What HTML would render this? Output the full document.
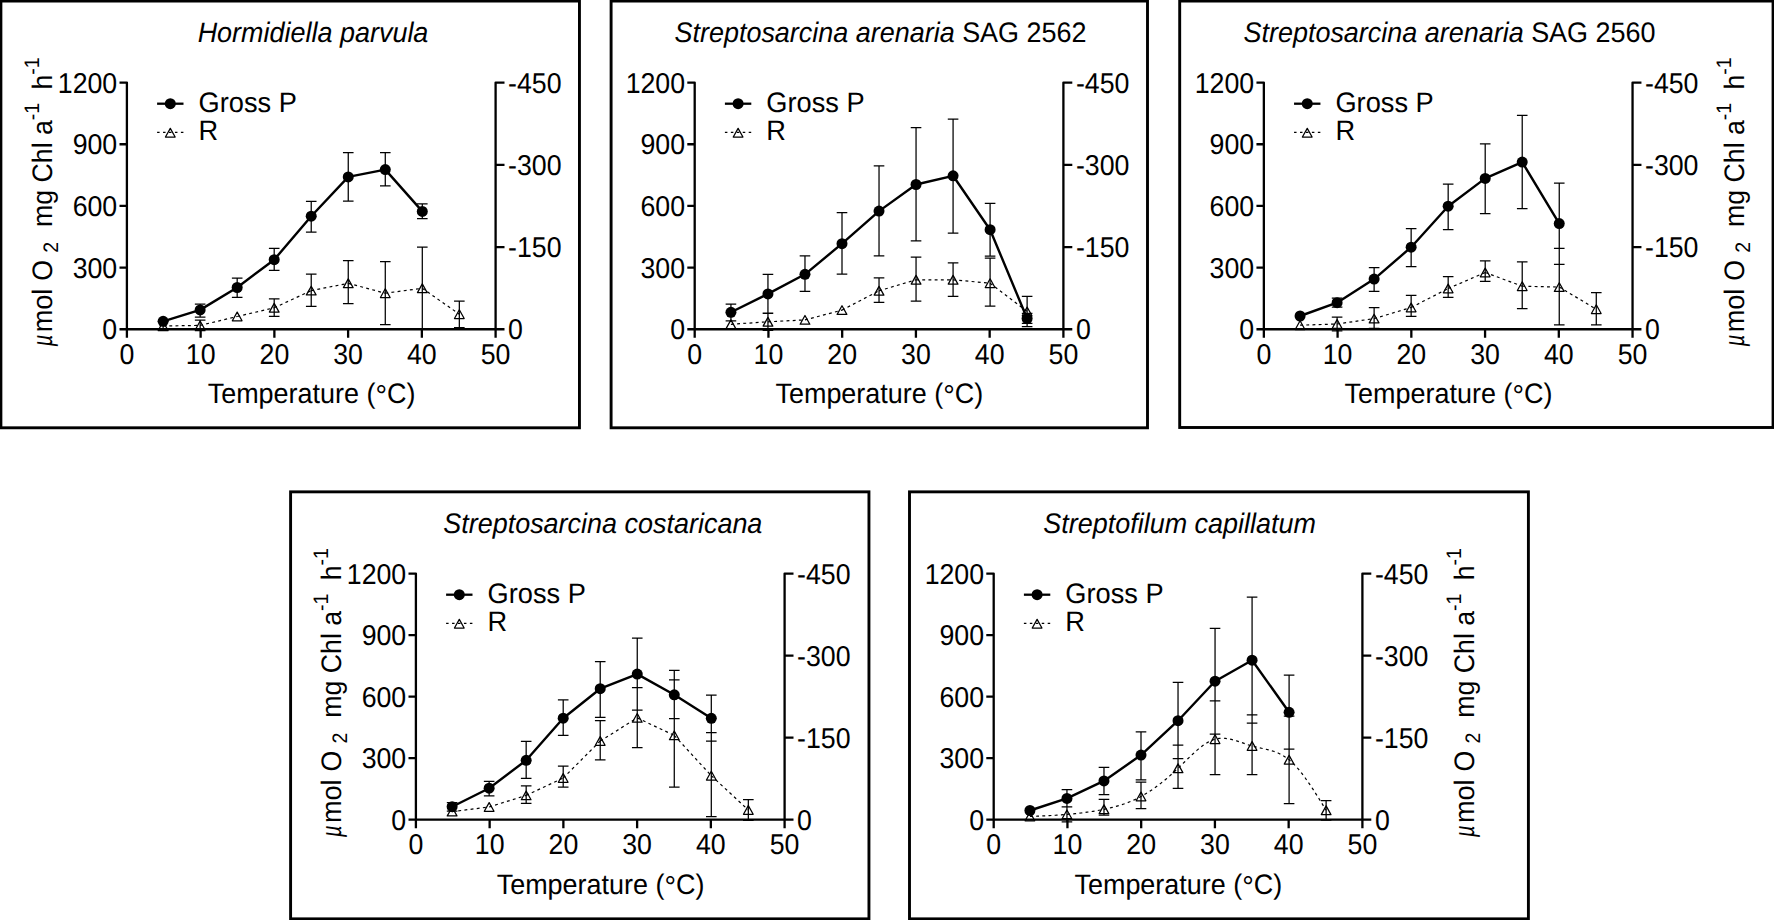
<!DOCTYPE html>
<html lang="en"><head><meta charset="utf-8"><title>Temperature response of gross photosynthesis and respiration</title>
<style>
html,body{margin:0;padding:0;background:#fff;}
body{width:1774px;height:920px;overflow:hidden;}
svg{display:block;font-family:"Liberation Sans", Arial, sans-serif;fill:#000;}
</style></head><body>
<svg width="1774" height="920" viewBox="0 0 1774 920" text-rendering="geometricPrecision">
<rect width="1774" height="920" fill="#fff"/>
<g>
<rect x="0.9" y="1.05" width="578.55" height="426.75" fill="#fff" stroke="#000" stroke-width="2.9"/>
<text transform="translate(313 41.5) scale(1.01 1.055)" font-size="26.7" text-anchor="middle" xml:space="preserve"><tspan font-style="italic">Hormidiella parvula</tspan></text>
<text transform="translate(117.2 339.45) scale(1 1.075)" font-size="26.7" text-anchor="end">0</text>
<text transform="translate(117.2 277.79) scale(1 1.075)" font-size="26.7" text-anchor="end">300</text>
<text transform="translate(117.2 216.12) scale(1 1.075)" font-size="26.7" text-anchor="end">600</text>
<text transform="translate(117.2 154.46) scale(1 1.075)" font-size="26.7" text-anchor="end">900</text>
<text transform="translate(117.2 92.8) scale(1 1.075)" font-size="26.7" text-anchor="end">1200</text>
<text transform="translate(508.1 339.45) scale(1 1.075)" font-size="26.7">0</text>
<text transform="translate(508.1 257.23) scale(1 1.075)" font-size="26.7">-150</text>
<text transform="translate(508.1 175.02) scale(1 1.075)" font-size="26.7">-300</text>
<text transform="translate(508.1 92.8) scale(1 1.075)" font-size="26.7">-450</text>
<text transform="translate(126.9 363.85) scale(1 1.075)" font-size="26.7" text-anchor="middle">0</text>
<text transform="translate(200.64 363.85) scale(1 1.075)" font-size="26.7" text-anchor="middle">10</text>
<text transform="translate(274.38 363.85) scale(1 1.075)" font-size="26.7" text-anchor="middle">20</text>
<text transform="translate(348.12 363.85) scale(1 1.075)" font-size="26.7" text-anchor="middle">30</text>
<text transform="translate(421.86 363.85) scale(1 1.075)" font-size="26.7" text-anchor="middle">40</text>
<text transform="translate(495.6 363.85) scale(1 1.075)" font-size="26.7" text-anchor="middle">50</text>
<text transform="translate(311.55 403.05) scale(1.01 1.055)" font-size="26.7" text-anchor="middle">Temperature (<tspan font-size="28.6" dy="3">°</tspan><tspan dy="-3">C)</tspan></text>
<text transform="translate(51.6 346.2) rotate(-90) scale(0.75 1.055)" font-size="26.7" font-style="italic">µ</text><text transform="translate(51.6 332.3) rotate(-90) scale(1.015 1.055)" font-size="26.7">mol</text><text transform="translate(51.6 280.85) rotate(-90) scale(1 1.055)" font-size="26.7">O</text><text transform="translate(57.9 252.65) rotate(-90) scale(1 1.075)" font-size="19.5">2</text><text transform="translate(51.6 226.95) rotate(-90) scale(1 1.055)" font-size="26.7">mg Chl a</text><text transform="translate(38.9 120.15) rotate(-90) scale(1 1.075)" font-size="19.5">-1</text><text transform="translate(51.6 89.45) rotate(-90) scale(1 1.055)" font-size="26.7">h</text><text transform="translate(38.9 74.8) rotate(-90) scale(1 1.075)" font-size="19.5">-1</text>
<path d="M157.1 103.7H183.5" stroke="#000" stroke-width="2.3" fill="none"/>
<circle cx="170.3" cy="103.7" r="5.5"/>
<path d="M157.1 132.4h26.4" stroke="#000" stroke-width="1.2" stroke-dasharray="2.5 3.45" fill="none"/>
<path d="M170.3 128.35L175.15 137.05H165.45Z" fill="none" stroke="#000" stroke-width="1.25" stroke-linejoin="round"/>
<text transform="translate(198.5 112.1) scale(1.02 1.055)" font-size="26.7">Gross P</text>
<text transform="translate(198.5 140.4) scale(1.02 1.055)" font-size="26.7">R</text>
<path d="M163.12 321.4V330.6M157.82 321.4h10.6M157.82 330.6h10.6M200.15 320.2V330.6M194.85 320.2h10.6M194.85 330.6h10.6M274.2 298.9V316.4M268.9 298.9h10.6M268.9 316.4h10.6M311.23 274V306.3M305.93 274h10.6M305.93 306.3h10.6M348.25 260.6V303.6M342.95 260.6h10.6M342.95 303.6h10.6M385.28 261.6V324.7M379.98 261.6h10.6M379.98 324.7h10.6M422.3 247.1V329.3M417 247.1h10.6M417 329.3h10.6M459.33 301.1V327.6M454.03 301.1h10.6M454.03 327.6h10.6M200.15 304V317.2M194.85 304h10.6M194.85 317.2h10.6M237.18 278.1V297.4M231.88 278.1h10.6M231.88 297.4h10.6M274.2 248.4V270.3M268.9 248.4h10.6M268.9 270.3h10.6M311.23 201.3V232.2M305.93 201.3h10.6M305.93 232.2h10.6M348.25 152.5V201.1M342.95 152.5h10.6M342.95 201.1h10.6M385.28 152.5V185.9M379.98 152.5h10.6M379.98 185.9h10.6M422.3 203.8V218.6M417 203.8h10.6M417 218.6h10.6" stroke="#000" stroke-width="1.25" fill="none"/>
<g fill="none" stroke="#000" stroke-width="1.2" stroke-dasharray="2.9 3.3"><path d="M163.12 326L200.15 325.4"/><path d="M200.15 325.4L237.18 316.5"/><path d="M237.18 316.5L274.2 307.8"/><path d="M274.2 307.8L311.23 290.6"/><path d="M311.23 290.6L348.25 283.3"/><path d="M348.25 283.3L385.28 293.2"/><path d="M385.28 293.2L422.3 288.3"/><path d="M422.3 288.3L459.33 314.2"/></g>
<path d="M163.12 321.6L167.97 330.3H158.28Z" fill="none" stroke="#000" stroke-width="1.25" stroke-linejoin="round"/>
<path d="M200.15 321L205 329.7H195.3Z" fill="none" stroke="#000" stroke-width="1.25" stroke-linejoin="round"/>
<path d="M237.18 312.1L242.03 320.8H232.33Z" fill="none" stroke="#000" stroke-width="1.25" stroke-linejoin="round"/>
<path d="M274.2 303.4L279.05 312.1H269.35Z" fill="none" stroke="#000" stroke-width="1.25" stroke-linejoin="round"/>
<path d="M311.23 286.2L316.08 294.9H306.38Z" fill="none" stroke="#000" stroke-width="1.25" stroke-linejoin="round"/>
<path d="M348.25 278.9L353.1 287.6H343.4Z" fill="none" stroke="#000" stroke-width="1.25" stroke-linejoin="round"/>
<path d="M385.28 288.8L390.13 297.5H380.43Z" fill="none" stroke="#000" stroke-width="1.25" stroke-linejoin="round"/>
<path d="M422.3 283.9L427.15 292.6H417.45Z" fill="none" stroke="#000" stroke-width="1.25" stroke-linejoin="round"/>
<path d="M459.33 309.8L464.18 318.5H454.48Z" fill="none" stroke="#000" stroke-width="1.25" stroke-linejoin="round"/>
<polyline points="163.12,321.3 200.15,309.9 237.18,287.5 274.2,259.7 311.23,216.2 348.25,176.9 385.28,169.6 422.3,211.4" fill="none" stroke="#000" stroke-width="2.4" stroke-linejoin="round"/>
<circle cx="163.12" cy="321.3" r="5.5"/>
<circle cx="200.15" cy="309.9" r="5.5"/>
<circle cx="237.18" cy="287.5" r="5.5"/>
<circle cx="274.2" cy="259.7" r="5.5"/>
<circle cx="311.23" cy="216.2" r="5.5"/>
<circle cx="348.25" cy="176.9" r="5.5"/>
<circle cx="385.28" cy="169.6" r="5.5"/>
<circle cx="422.3" cy="211.4" r="5.5"/>
<path d="M119.5 82.6H126.9V329.25M119.5 329.25H504.5M504.5 82.6H495.6V337.85M119.5 267.59H126.9M119.5 205.93H126.9M119.5 144.26H126.9M495.6 247.03H504.5M495.6 164.82H504.5M126.9 329.25V337.85M200.64 329.25V337.85M274.38 329.25V337.85M348.12 329.25V337.85M421.86 329.25V337.85" stroke="#000" stroke-width="2.3" fill="none" stroke-linejoin="round" stroke-linecap="butt"/>
</g>
<g>
<rect x="611.1" y="1.05" width="536.4" height="426.75" fill="#fff" stroke="#000" stroke-width="2.9"/>
<text transform="translate(880.5 41.5) scale(1.01 1.055)" font-size="26.7" text-anchor="middle" xml:space="preserve"><tspan font-style="italic">Streptosarcina arenaria</tspan> SAG 2562</text>
<text transform="translate(685 339.45) scale(1 1.075)" font-size="26.7" text-anchor="end">0</text>
<text transform="translate(685 277.79) scale(1 1.075)" font-size="26.7" text-anchor="end">300</text>
<text transform="translate(685 216.12) scale(1 1.075)" font-size="26.7" text-anchor="end">600</text>
<text transform="translate(685 154.46) scale(1 1.075)" font-size="26.7" text-anchor="end">900</text>
<text transform="translate(685 92.8) scale(1 1.075)" font-size="26.7" text-anchor="end">1200</text>
<text transform="translate(1075.9 339.45) scale(1 1.075)" font-size="26.7">0</text>
<text transform="translate(1075.9 257.23) scale(1 1.075)" font-size="26.7">-150</text>
<text transform="translate(1075.9 175.02) scale(1 1.075)" font-size="26.7">-300</text>
<text transform="translate(1075.9 92.8) scale(1 1.075)" font-size="26.7">-450</text>
<text transform="translate(694.7 363.85) scale(1 1.075)" font-size="26.7" text-anchor="middle">0</text>
<text transform="translate(768.44 363.85) scale(1 1.075)" font-size="26.7" text-anchor="middle">10</text>
<text transform="translate(842.18 363.85) scale(1 1.075)" font-size="26.7" text-anchor="middle">20</text>
<text transform="translate(915.92 363.85) scale(1 1.075)" font-size="26.7" text-anchor="middle">30</text>
<text transform="translate(989.66 363.85) scale(1 1.075)" font-size="26.7" text-anchor="middle">40</text>
<text transform="translate(1063.4 363.85) scale(1 1.075)" font-size="26.7" text-anchor="middle">50</text>
<text transform="translate(879.35 403.05) scale(1.01 1.055)" font-size="26.7" text-anchor="middle">Temperature (<tspan font-size="28.6" dy="3">°</tspan><tspan dy="-3">C)</tspan></text>
<path d="M724.9 103.7H751.3" stroke="#000" stroke-width="2.3" fill="none"/>
<circle cx="738.1" cy="103.7" r="5.5"/>
<path d="M724.9 132.4h26.4" stroke="#000" stroke-width="1.2" stroke-dasharray="2.5 3.45" fill="none"/>
<path d="M738.1 128.35L742.95 137.05H733.25Z" fill="none" stroke="#000" stroke-width="1.25" stroke-linejoin="round"/>
<text transform="translate(766.3 112.1) scale(1.02 1.055)" font-size="26.7">Gross P</text>
<text transform="translate(766.3 140.4) scale(1.02 1.055)" font-size="26.7">R</text>
<path d="M767.95 313.3V330.3M762.65 313.3h10.6M762.65 330.3h10.6M879.03 277.9V302.4M873.73 277.9h10.6M873.73 302.4h10.6M916.05 257.1V301.2M910.75 257.1h10.6M910.75 301.2h10.6M953.08 262.9V296.3M947.78 262.9h10.6M947.78 296.3h10.6M990.1 258.1V306.1M984.8 258.1h10.6M984.8 306.1h10.6M1027.12 296.3V326.5M1021.83 296.3h10.6M1021.83 326.5h10.6M730.93 304V320.8M725.63 304h10.6M725.63 320.8h10.6M767.95 274.3V313.1M762.65 274.3h10.6M762.65 313.1h10.6M804.98 255.9V291.3M799.68 255.9h10.6M799.68 291.3h10.6M842 212.5V274.1M836.7 212.5h10.6M836.7 274.1h10.6M879.03 165.9V255.9M873.73 165.9h10.6M873.73 255.9h10.6M916.05 127.5V240.8M910.75 127.5h10.6M910.75 240.8h10.6M953.08 119.2V233.2M947.78 119.2h10.6M947.78 233.2h10.6M990.1 203.3V256.2M984.8 203.3h10.6M984.8 256.2h10.6M1027.12 313.4V323.4M1021.83 313.4h10.6M1021.83 323.4h10.6" stroke="#000" stroke-width="1.25" fill="none"/>
<g fill="none" stroke="#000" stroke-width="1.2" stroke-dasharray="2.9 3.3"><path d="M730.93 324.3L767.95 321.8"/><path d="M767.95 321.8L804.98 319.9"/><path d="M804.98 319.9L842 310.1"/><path d="M842 310.1L879.03 290.8"/><path d="M879.03 290.8L916.05 279.8"/><path d="M916.05 279.8L953.08 279.8"/><path d="M953.08 279.8L990.1 283.2"/><path d="M990.1 283.2L1027.12 311.5"/></g>
<path d="M730.93 319.9L735.78 328.6H726.08Z" fill="none" stroke="#000" stroke-width="1.25" stroke-linejoin="round"/>
<path d="M767.95 317.4L772.8 326.1H763.1Z" fill="none" stroke="#000" stroke-width="1.25" stroke-linejoin="round"/>
<path d="M804.98 315.5L809.83 324.2H800.13Z" fill="none" stroke="#000" stroke-width="1.25" stroke-linejoin="round"/>
<path d="M842 305.7L846.85 314.4H837.15Z" fill="none" stroke="#000" stroke-width="1.25" stroke-linejoin="round"/>
<path d="M879.03 286.4L883.88 295.1H874.18Z" fill="none" stroke="#000" stroke-width="1.25" stroke-linejoin="round"/>
<path d="M916.05 275.4L920.9 284.1H911.2Z" fill="none" stroke="#000" stroke-width="1.25" stroke-linejoin="round"/>
<path d="M953.08 275.4L957.93 284.1H948.23Z" fill="none" stroke="#000" stroke-width="1.25" stroke-linejoin="round"/>
<path d="M990.1 278.8L994.95 287.5H985.25Z" fill="none" stroke="#000" stroke-width="1.25" stroke-linejoin="round"/>
<path d="M1027.12 307.1L1031.97 315.8H1022.27Z" fill="none" stroke="#000" stroke-width="1.25" stroke-linejoin="round"/>
<polyline points="730.93,312.3 767.95,293.9 804.98,274.3 842,243.7 879.03,211.1 916.05,184.5 953.08,175.8 990.1,229.7 1027.12,318.5" fill="none" stroke="#000" stroke-width="2.4" stroke-linejoin="round"/>
<circle cx="730.93" cy="312.3" r="5.5"/>
<circle cx="767.95" cy="293.9" r="5.5"/>
<circle cx="804.98" cy="274.3" r="5.5"/>
<circle cx="842" cy="243.7" r="5.5"/>
<circle cx="879.03" cy="211.1" r="5.5"/>
<circle cx="916.05" cy="184.5" r="5.5"/>
<circle cx="953.08" cy="175.8" r="5.5"/>
<circle cx="990.1" cy="229.7" r="5.5"/>
<circle cx="1027.12" cy="318.5" r="5.5"/>
<path d="M687.3 82.6H694.7V329.25M687.3 329.25H1072.3M1072.3 82.6H1063.4V337.85M687.3 267.59H694.7M687.3 205.93H694.7M687.3 144.26H694.7M1063.4 247.03H1072.3M1063.4 164.82H1072.3M694.7 329.25V337.85M768.44 329.25V337.85M842.18 329.25V337.85M915.92 329.25V337.85M989.66 329.25V337.85" stroke="#000" stroke-width="2.3" fill="none" stroke-linejoin="round" stroke-linecap="butt"/>
</g>
<g>
<rect x="1179.7" y="1.05" width="593.35" height="426.45" fill="#fff" stroke="#000" stroke-width="2.9"/>
<text transform="translate(1449.5 41.5) scale(1.01 1.055)" font-size="26.7" text-anchor="middle" xml:space="preserve"><tspan font-style="italic">Streptosarcina arenaria</tspan> SAG 2560</text>
<text transform="translate(1254.15 339.45) scale(1 1.075)" font-size="26.7" text-anchor="end">0</text>
<text transform="translate(1254.15 277.79) scale(1 1.075)" font-size="26.7" text-anchor="end">300</text>
<text transform="translate(1254.15 216.12) scale(1 1.075)" font-size="26.7" text-anchor="end">600</text>
<text transform="translate(1254.15 154.46) scale(1 1.075)" font-size="26.7" text-anchor="end">900</text>
<text transform="translate(1254.15 92.8) scale(1 1.075)" font-size="26.7" text-anchor="end">1200</text>
<text transform="translate(1645.05 339.45) scale(1 1.075)" font-size="26.7">0</text>
<text transform="translate(1645.05 257.23) scale(1 1.075)" font-size="26.7">-150</text>
<text transform="translate(1645.05 175.02) scale(1 1.075)" font-size="26.7">-300</text>
<text transform="translate(1645.05 92.8) scale(1 1.075)" font-size="26.7">-450</text>
<text transform="translate(1263.85 363.85) scale(1 1.075)" font-size="26.7" text-anchor="middle">0</text>
<text transform="translate(1337.59 363.85) scale(1 1.075)" font-size="26.7" text-anchor="middle">10</text>
<text transform="translate(1411.33 363.85) scale(1 1.075)" font-size="26.7" text-anchor="middle">20</text>
<text transform="translate(1485.07 363.85) scale(1 1.075)" font-size="26.7" text-anchor="middle">30</text>
<text transform="translate(1558.81 363.85) scale(1 1.075)" font-size="26.7" text-anchor="middle">40</text>
<text transform="translate(1632.55 363.85) scale(1 1.075)" font-size="26.7" text-anchor="middle">50</text>
<text transform="translate(1448.5 403.05) scale(1.01 1.055)" font-size="26.7" text-anchor="middle">Temperature (<tspan font-size="28.6" dy="3">°</tspan><tspan dy="-3">C)</tspan></text>
<text transform="translate(1743.85 346.2) rotate(-90) scale(0.75 1.055)" font-size="26.7" font-style="italic">µ</text><text transform="translate(1743.85 332.3) rotate(-90) scale(1.015 1.055)" font-size="26.7">mol</text><text transform="translate(1743.85 280.85) rotate(-90) scale(1 1.055)" font-size="26.7">O</text><text transform="translate(1750.15 252.65) rotate(-90) scale(1 1.075)" font-size="19.5">2</text><text transform="translate(1743.85 226.95) rotate(-90) scale(1 1.055)" font-size="26.7">mg Chl a</text><text transform="translate(1731.15 120.15) rotate(-90) scale(1 1.075)" font-size="19.5">-1</text><text transform="translate(1743.85 89.45) rotate(-90) scale(1 1.055)" font-size="26.7">h</text><text transform="translate(1731.15 74.8) rotate(-90) scale(1 1.075)" font-size="19.5">-1</text>
<path d="M1294.05 103.7H1320.45" stroke="#000" stroke-width="2.3" fill="none"/>
<circle cx="1307.25" cy="103.7" r="5.5"/>
<path d="M1294.05 132.4h26.4" stroke="#000" stroke-width="1.2" stroke-dasharray="2.5 3.45" fill="none"/>
<path d="M1307.25 128.35L1312.1 137.05H1302.4Z" fill="none" stroke="#000" stroke-width="1.25" stroke-linejoin="round"/>
<text transform="translate(1335.45 112.1) scale(1.02 1.055)" font-size="26.7">Gross P</text>
<text transform="translate(1335.45 140.4) scale(1.02 1.055)" font-size="26.7">R</text>
<path d="M1337.1 317.2V330.8M1331.8 317.2h10.6M1331.8 330.8h10.6M1374.12 307.6V328.3M1368.83 307.6h10.6M1368.83 328.3h10.6M1411.15 295.4V316.4M1405.85 295.4h10.6M1405.85 316.4h10.6M1448.17 276.7V297.4M1442.88 276.7h10.6M1442.88 297.4h10.6M1485.2 260.9V281.4M1479.9 260.9h10.6M1479.9 281.4h10.6M1522.22 261.9V308.5M1516.92 261.9h10.6M1516.92 308.5h10.6M1559.25 248.4V324.8M1553.95 248.4h10.6M1553.95 324.8h10.6M1596.28 292.5V324.8M1590.98 292.5h10.6M1590.98 324.8h10.6M1337.1 298.2V307M1331.8 298.2h10.6M1331.8 307h10.6M1374.12 267.7V291.3M1368.83 267.7h10.6M1368.83 291.3h10.6M1411.15 228.5V266.5M1405.85 228.5h10.6M1405.85 266.5h10.6M1448.17 184.2V229.7M1442.88 184.2h10.6M1442.88 229.7h10.6M1485.2 143.8V213.7M1479.9 143.8h10.6M1479.9 213.7h10.6M1522.22 115.4V208.6M1516.92 115.4h10.6M1516.92 208.6h10.6M1559.25 183.1V264.3M1553.95 183.1h10.6M1553.95 264.3h10.6" stroke="#000" stroke-width="1.25" fill="none"/>
<g fill="none" stroke="#000" stroke-width="1.2" stroke-dasharray="2.9 3.3"><path d="M1300.08 325.2L1337.1 324"/><path d="M1337.1 324L1374.12 318.6"/><path d="M1374.12 318.6L1411.15 307.5"/><path d="M1411.15 307.5L1448.17 288.5"/><path d="M1448.17 288.5L1485.2 272.5"/><path d="M1485.2 272.5L1522.22 286.2"/><path d="M1522.22 286.2L1559.25 287.1"/><path d="M1559.25 287.1L1596.28 309.2"/></g>
<path d="M1300.08 320.8L1304.92 329.5H1295.23Z" fill="none" stroke="#000" stroke-width="1.25" stroke-linejoin="round"/>
<path d="M1337.1 319.6L1341.95 328.3H1332.25Z" fill="none" stroke="#000" stroke-width="1.25" stroke-linejoin="round"/>
<path d="M1374.12 314.2L1378.97 322.9H1369.28Z" fill="none" stroke="#000" stroke-width="1.25" stroke-linejoin="round"/>
<path d="M1411.15 303.1L1416 311.8H1406.3Z" fill="none" stroke="#000" stroke-width="1.25" stroke-linejoin="round"/>
<path d="M1448.17 284.1L1453.02 292.8H1443.33Z" fill="none" stroke="#000" stroke-width="1.25" stroke-linejoin="round"/>
<path d="M1485.2 268.1L1490.05 276.8H1480.35Z" fill="none" stroke="#000" stroke-width="1.25" stroke-linejoin="round"/>
<path d="M1522.22 281.8L1527.07 290.5H1517.38Z" fill="none" stroke="#000" stroke-width="1.25" stroke-linejoin="round"/>
<path d="M1559.25 282.7L1564.1 291.4H1554.4Z" fill="none" stroke="#000" stroke-width="1.25" stroke-linejoin="round"/>
<path d="M1596.28 304.8L1601.12 313.5H1591.43Z" fill="none" stroke="#000" stroke-width="1.25" stroke-linejoin="round"/>
<polyline points="1300.08,316 1337.1,302.7 1374.12,279.1 1411.15,247.2 1448.17,206.2 1485.2,178.4 1522.22,162.1 1559.25,223.6" fill="none" stroke="#000" stroke-width="2.4" stroke-linejoin="round"/>
<circle cx="1300.08" cy="316" r="5.5"/>
<circle cx="1337.1" cy="302.7" r="5.5"/>
<circle cx="1374.12" cy="279.1" r="5.5"/>
<circle cx="1411.15" cy="247.2" r="5.5"/>
<circle cx="1448.17" cy="206.2" r="5.5"/>
<circle cx="1485.2" cy="178.4" r="5.5"/>
<circle cx="1522.22" cy="162.1" r="5.5"/>
<circle cx="1559.25" cy="223.6" r="5.5"/>
<path d="M1256.45 82.6H1263.85V329.25M1256.45 329.25H1641.45M1641.45 82.6H1632.55V337.85M1256.45 267.59H1263.85M1256.45 205.93H1263.85M1256.45 144.26H1263.85M1632.55 247.03H1641.45M1632.55 164.82H1641.45M1263.85 329.25V337.85M1337.59 329.25V337.85M1411.33 329.25V337.85M1485.07 329.25V337.85M1558.81 329.25V337.85" stroke="#000" stroke-width="2.3" fill="none" stroke-linejoin="round" stroke-linecap="butt"/>
</g>
<g>
<rect x="290.6" y="491.85" width="578.35" height="427" fill="#fff" stroke="#000" stroke-width="2.9"/>
<text transform="translate(602.8 532.5) scale(1.01 1.055)" font-size="26.7" text-anchor="middle" xml:space="preserve"><tspan font-style="italic">Streptosarcina costaricana</tspan></text>
<text transform="translate(406.2 829.9) scale(1 1.075)" font-size="26.7" text-anchor="end">0</text>
<text transform="translate(406.2 768.38) scale(1 1.075)" font-size="26.7" text-anchor="end">300</text>
<text transform="translate(406.2 706.85) scale(1 1.075)" font-size="26.7" text-anchor="end">600</text>
<text transform="translate(406.2 645.33) scale(1 1.075)" font-size="26.7" text-anchor="end">900</text>
<text transform="translate(406.2 583.8) scale(1 1.075)" font-size="26.7" text-anchor="end">1200</text>
<text transform="translate(797.1 829.9) scale(1 1.075)" font-size="26.7">0</text>
<text transform="translate(797.1 747.87) scale(1 1.075)" font-size="26.7">-150</text>
<text transform="translate(797.1 665.83) scale(1 1.075)" font-size="26.7">-300</text>
<text transform="translate(797.1 583.8) scale(1 1.075)" font-size="26.7">-450</text>
<text transform="translate(415.9 854.3) scale(1 1.075)" font-size="26.7" text-anchor="middle">0</text>
<text transform="translate(489.64 854.3) scale(1 1.075)" font-size="26.7" text-anchor="middle">10</text>
<text transform="translate(563.38 854.3) scale(1 1.075)" font-size="26.7" text-anchor="middle">20</text>
<text transform="translate(637.12 854.3) scale(1 1.075)" font-size="26.7" text-anchor="middle">30</text>
<text transform="translate(710.86 854.3) scale(1 1.075)" font-size="26.7" text-anchor="middle">40</text>
<text transform="translate(784.6 854.3) scale(1 1.075)" font-size="26.7" text-anchor="middle">50</text>
<text transform="translate(600.55 893.5) scale(1.01 1.055)" font-size="26.7" text-anchor="middle">Temperature (<tspan font-size="28.6" dy="3">°</tspan><tspan dy="-3">C)</tspan></text>
<text transform="translate(340.6 836.93) rotate(-90) scale(0.75 1.055)" font-size="26.7" font-style="italic">µ</text><text transform="translate(340.6 823.02) rotate(-90) scale(1.015 1.055)" font-size="26.7">mol</text><text transform="translate(340.6 771.58) rotate(-90) scale(1 1.055)" font-size="26.7">O</text><text transform="translate(346.9 743.38) rotate(-90) scale(1 1.075)" font-size="19.5">2</text><text transform="translate(340.6 717.68) rotate(-90) scale(1 1.055)" font-size="26.7">mg Chl a</text><text transform="translate(327.9 610.88) rotate(-90) scale(1 1.075)" font-size="19.5">-1</text><text transform="translate(340.6 580.18) rotate(-90) scale(1 1.055)" font-size="26.7">h</text><text transform="translate(327.9 565.52) rotate(-90) scale(1 1.075)" font-size="19.5">-1</text>
<path d="M446.1 594.7H472.5" stroke="#000" stroke-width="2.3" fill="none"/>
<circle cx="459.3" cy="594.7" r="5.5"/>
<path d="M446.1 623.4h26.4" stroke="#000" stroke-width="1.2" stroke-dasharray="2.5 3.45" fill="none"/>
<path d="M459.3 619.35L464.15 628.05H454.45Z" fill="none" stroke="#000" stroke-width="1.25" stroke-linejoin="round"/>
<text transform="translate(487.5 603.1) scale(1.02 1.055)" font-size="26.7">Gross P</text>
<text transform="translate(487.5 631.4) scale(1.02 1.055)" font-size="26.7">R</text>
<path d="M526.17 785.9V803.4M520.88 785.9h10.6M520.88 803.4h10.6M563.2 766.1V787.1M557.9 766.1h10.6M557.9 787.1h10.6M600.22 720.7V759.9M594.92 720.7h10.6M594.92 759.9h10.6M637.25 687.5V747.6M631.95 687.5h10.6M631.95 747.6h10.6M674.27 679.9V787.2M668.98 679.9h10.6M668.98 787.2h10.6M711.3 732.7V816.7M706 732.7h10.6M706 816.7h10.6M748.33 799.6V820.4M743.03 799.6h10.6M743.03 820.4h10.6M452.12 802.6V811M446.82 802.6h10.6M446.82 811h10.6M489.15 781.3V795.8M483.85 781.3h10.6M483.85 795.8h10.6M526.17 741.3V778.3M520.88 741.3h10.6M520.88 778.3h10.6M563.2 699.9V735.4M557.9 699.9h10.6M557.9 735.4h10.6M600.22 661.6V717.3M594.92 661.6h10.6M594.92 717.3h10.6M637.25 638.1V710M631.95 638.1h10.6M631.95 710h10.6M674.27 670.3V718.5M668.98 670.3h10.6M668.98 718.5h10.6M711.3 695.1V741.2M706 695.1h10.6M706 741.2h10.6" stroke="#000" stroke-width="1.25" fill="none"/>
<g fill="none" stroke="#000" stroke-width="1.2" stroke-dasharray="2.9 3.3"><path d="M452.12 811.6L489.15 807"/><path d="M489.15 807L526.17 795.4"/><path d="M526.17 795.4L563.2 778"/><path d="M563.2 778L600.22 741"/><path d="M600.22 741L637.25 717.9"/><path d="M637.25 717.9L674.27 735.4"/><path d="M674.27 735.4L711.3 775.7"/><path d="M711.3 775.7L748.33 810"/></g>
<path d="M452.12 807.2L456.97 815.9H447.27Z" fill="none" stroke="#000" stroke-width="1.25" stroke-linejoin="round"/>
<path d="M489.15 802.6L494 811.3H484.3Z" fill="none" stroke="#000" stroke-width="1.25" stroke-linejoin="round"/>
<path d="M526.17 791L531.02 799.7H521.32Z" fill="none" stroke="#000" stroke-width="1.25" stroke-linejoin="round"/>
<path d="M563.2 773.6L568.05 782.3H558.35Z" fill="none" stroke="#000" stroke-width="1.25" stroke-linejoin="round"/>
<path d="M600.22 736.6L605.07 745.3H595.37Z" fill="none" stroke="#000" stroke-width="1.25" stroke-linejoin="round"/>
<path d="M637.25 713.5L642.1 722.2H632.4Z" fill="none" stroke="#000" stroke-width="1.25" stroke-linejoin="round"/>
<path d="M674.27 731L679.12 739.7H669.42Z" fill="none" stroke="#000" stroke-width="1.25" stroke-linejoin="round"/>
<path d="M711.3 771.3L716.15 780H706.45Z" fill="none" stroke="#000" stroke-width="1.25" stroke-linejoin="round"/>
<path d="M748.33 805.6L753.18 814.3H743.48Z" fill="none" stroke="#000" stroke-width="1.25" stroke-linejoin="round"/>
<polyline points="452.12,806.7 489.15,788.2 526.17,760.3 563.2,718.2 600.22,688.7 637.25,674.1 674.27,694.8 711.3,718.3" fill="none" stroke="#000" stroke-width="2.4" stroke-linejoin="round"/>
<circle cx="452.12" cy="806.7" r="5.5"/>
<circle cx="489.15" cy="788.2" r="5.5"/>
<circle cx="526.17" cy="760.3" r="5.5"/>
<circle cx="563.2" cy="718.2" r="5.5"/>
<circle cx="600.22" cy="688.7" r="5.5"/>
<circle cx="637.25" cy="674.1" r="5.5"/>
<circle cx="674.27" cy="694.8" r="5.5"/>
<circle cx="711.3" cy="718.3" r="5.5"/>
<path d="M408.5 573.6H415.9V819.7M408.5 819.7H793.5M793.5 573.6H784.6V828.3M408.5 758.18H415.9M408.5 696.65H415.9M408.5 635.12H415.9M784.6 737.67H793.5M784.6 655.63H793.5M415.9 819.7V828.3M489.64 819.7V828.3M563.38 819.7V828.3M637.12 819.7V828.3M710.86 819.7V828.3" stroke="#000" stroke-width="2.3" fill="none" stroke-linejoin="round" stroke-linecap="butt"/>
</g>
<g>
<rect x="909.5" y="491.85" width="618.9" height="427" fill="#fff" stroke="#000" stroke-width="2.9"/>
<text transform="translate(1179.6 532.5) scale(1.01 1.055)" font-size="26.7" text-anchor="middle" xml:space="preserve"><tspan font-style="italic">Streptofilum capillatum</tspan></text>
<text transform="translate(984 829.9) scale(1 1.075)" font-size="26.7" text-anchor="end">0</text>
<text transform="translate(984 768.38) scale(1 1.075)" font-size="26.7" text-anchor="end">300</text>
<text transform="translate(984 706.85) scale(1 1.075)" font-size="26.7" text-anchor="end">600</text>
<text transform="translate(984 645.33) scale(1 1.075)" font-size="26.7" text-anchor="end">900</text>
<text transform="translate(984 583.8) scale(1 1.075)" font-size="26.7" text-anchor="end">1200</text>
<text transform="translate(1374.9 829.9) scale(1 1.075)" font-size="26.7">0</text>
<text transform="translate(1374.9 747.87) scale(1 1.075)" font-size="26.7">-150</text>
<text transform="translate(1374.9 665.83) scale(1 1.075)" font-size="26.7">-300</text>
<text transform="translate(1374.9 583.8) scale(1 1.075)" font-size="26.7">-450</text>
<text transform="translate(993.7 854.3) scale(1 1.075)" font-size="26.7" text-anchor="middle">0</text>
<text transform="translate(1067.44 854.3) scale(1 1.075)" font-size="26.7" text-anchor="middle">10</text>
<text transform="translate(1141.18 854.3) scale(1 1.075)" font-size="26.7" text-anchor="middle">20</text>
<text transform="translate(1214.92 854.3) scale(1 1.075)" font-size="26.7" text-anchor="middle">30</text>
<text transform="translate(1288.66 854.3) scale(1 1.075)" font-size="26.7" text-anchor="middle">40</text>
<text transform="translate(1362.4 854.3) scale(1 1.075)" font-size="26.7" text-anchor="middle">50</text>
<text transform="translate(1178.35 893.5) scale(1.01 1.055)" font-size="26.7" text-anchor="middle">Temperature (<tspan font-size="28.6" dy="3">°</tspan><tspan dy="-3">C)</tspan></text>
<text transform="translate(1473.7 836.93) rotate(-90) scale(0.75 1.055)" font-size="26.7" font-style="italic">µ</text><text transform="translate(1473.7 823.02) rotate(-90) scale(1.015 1.055)" font-size="26.7">mol</text><text transform="translate(1473.7 771.58) rotate(-90) scale(1 1.055)" font-size="26.7">O</text><text transform="translate(1480 743.38) rotate(-90) scale(1 1.075)" font-size="19.5">2</text><text transform="translate(1473.7 717.68) rotate(-90) scale(1 1.055)" font-size="26.7">mg Chl a</text><text transform="translate(1461 610.88) rotate(-90) scale(1 1.075)" font-size="19.5">-1</text><text transform="translate(1473.7 580.18) rotate(-90) scale(1 1.055)" font-size="26.7">h</text><text transform="translate(1461 565.52) rotate(-90) scale(1 1.075)" font-size="19.5">-1</text>
<path d="M1023.9 594.7H1050.3" stroke="#000" stroke-width="2.3" fill="none"/>
<circle cx="1037.1" cy="594.7" r="5.5"/>
<path d="M1023.9 623.4h26.4" stroke="#000" stroke-width="1.2" stroke-dasharray="2.5 3.45" fill="none"/>
<path d="M1037.1 619.35L1041.95 628.05H1032.25Z" fill="none" stroke="#000" stroke-width="1.25" stroke-linejoin="round"/>
<text transform="translate(1065.3 603.1) scale(1.02 1.055)" font-size="26.7">Gross P</text>
<text transform="translate(1065.3 631.4) scale(1.02 1.055)" font-size="26.7">R</text>
<path d="M1066.95 806.9V821.9M1061.65 806.9h10.6M1061.65 821.9h10.6M1103.98 799.3V815.1M1098.68 799.3h10.6M1098.68 815.1h10.6M1141 782.1V808.7M1135.7 782.1h10.6M1135.7 808.7h10.6M1178.03 745.2V788.4M1172.73 745.2h10.6M1172.73 788.4h10.6M1215.05 700.9V774.6M1209.75 700.9h10.6M1209.75 774.6h10.6M1252.08 714.8V774.6M1246.78 714.8h10.6M1246.78 774.6h10.6M1289.1 716.1V803.5M1283.8 716.1h10.6M1283.8 803.5h10.6M1326.12 800.5V820.1M1320.83 800.5h10.6M1320.83 820.1h10.6M1066.95 789.7V806.9M1061.65 789.7h10.6M1061.65 806.9h10.6M1103.98 767.3V794.6M1098.68 767.3h10.6M1098.68 794.6h10.6M1141 731.9V779.8M1135.7 731.9h10.6M1135.7 779.8h10.6M1178.03 682.4V758.7M1172.73 682.4h10.6M1172.73 758.7h10.6M1215.05 628.4V734M1209.75 628.4h10.6M1209.75 734h10.6M1252.08 597.2V723.1M1246.78 597.2h10.6M1246.78 723.1h10.6M1289.1 675.1V749M1283.8 675.1h10.6M1283.8 749h10.6" stroke="#000" stroke-width="1.25" fill="none"/>
<path d="M1029.93 816.5L1031.43 816.43L1032.93 816.37L1034.44 816.3L1035.94 816.24L1037.44 816.17L1038.95 816.1L1040.45 816.03L1041.95 815.96L1043.46 815.89L1044.96 815.81L1046.46 815.74L1047.97 815.66L1049.47 815.58L1050.97 815.5L1052.48 815.41L1053.98 815.32L1055.49 815.23L1056.99 815.13L1058.49 815.03L1060 814.93L1061.5 814.82L1063 814.71L1064.51 814.6L1066.01 814.48L1067.51 814.35L1069.02 814.22L1070.52 814.09L1072.02 813.95L1073.53 813.8L1075.03 813.65L1076.54 813.49L1078.04 813.33L1079.54 813.16L1081.05 812.98L1082.55 812.8L1084.05 812.61L1085.56 812.41L1087.06 812.2L1088.56 811.99L1090.07 811.77L1091.57 811.54L1093.07 811.3L1094.58 811.05L1096.08 810.8L1097.58 810.53L1099.09 810.26L1100.59 809.97L1102.1 809.68L1103.6 809.38L1105.1 809.06L1106.61 808.74L1108.11 808.4L1109.61 808.06L1111.12 807.69L1112.62 807.32L1114.12 806.93L1115.63 806.52L1117.13 806.1L1118.63 805.66L1120.14 805.2L1121.64 804.72L1123.15 804.22L1124.65 803.7L1126.15 803.16L1127.66 802.6L1129.16 802.02L1130.66 801.41L1132.17 800.77L1133.67 800.11L1135.17 799.43L1136.68 798.71L1138.18 797.97L1139.68 797.2L1141.19 796.4L1142.69 795.57L1144.2 794.71L1145.7 793.82L1147.2 792.9L1148.71 791.95L1150.21 790.97L1151.71 789.96L1153.22 788.93L1154.72 787.87L1156.22 786.79L1157.73 785.67L1159.23 784.54L1160.73 783.37L1162.24 782.18L1163.74 780.97L1165.24 779.73L1166.75 778.47L1168.25 777.19L1169.76 775.88L1171.26 774.55L1172.76 773.2L1174.27 771.82L1175.77 770.43L1177.27 769.02L1178.78 767.58L1180.28 766.13L1181.78 764.66L1183.29 763.19L1184.79 761.71L1186.29 760.24L1187.8 758.77L1189.3 757.32L1190.81 755.88L1192.31 754.46L1193.81 753.08L1195.32 751.72L1196.82 750.4L1198.32 749.12L1199.83 747.89L1201.33 746.71L1202.83 745.59L1204.34 744.53L1205.84 743.54L1207.34 742.61L1208.85 741.77L1210.35 741.01L1211.85 740.33L1213.36 739.74L1214.86 739.25L1216.37 738.87L1217.87 738.57L1219.37 738.37L1220.88 738.26L1222.38 738.23L1223.88 738.27L1225.39 738.38L1226.89 738.56L1228.39 738.8L1229.9 739.09L1231.4 739.42L1232.9 739.8L1234.41 740.22L1235.91 740.67L1237.42 741.14L1238.92 741.64L1240.42 742.15L1241.93 742.66L1243.43 743.19L1244.93 743.71L1246.44 744.22L1247.94 744.73L1249.44 745.21L1250.95 745.67L1252.45 746.11L1253.95 746.51L1255.46 746.88L1256.96 747.24L1258.47 747.58L1259.97 747.9L1261.47 748.23L1262.98 748.55L1264.48 748.88L1265.98 749.22L1267.49 749.58L1268.99 749.96L1270.49 750.37L1272 750.81L1273.5 751.29L1275 751.81L1276.51 752.38L1278.01 753L1279.51 753.69L1281.02 754.44L1282.52 755.26L1284.03 756.15L1285.53 757.13L1287.03 758.19L1288.54 759.34L1290.04 760.59L1291.54 761.94L1293.05 763.38L1294.55 764.91L1296.05 766.52L1297.56 768.21L1299.06 769.98L1300.56 771.82L1302.07 773.73L1303.57 775.7L1305.08 777.74L1306.58 779.83L1308.08 781.97L1309.59 784.16L1311.09 786.4L1312.59 788.67L1314.1 790.99L1315.6 793.33L1317.1 795.7L1318.61 798.1L1320.11 800.51L1321.61 802.95L1323.12 805.39L1324.62 807.84L1326.12 810.3" fill="none" stroke="#000" stroke-width="1.2" stroke-dasharray="2.9 3.3"/>
<path d="M1029.93 812.1L1034.78 820.8H1025.08Z" fill="none" stroke="#000" stroke-width="1.25" stroke-linejoin="round"/>
<path d="M1066.95 810L1071.8 818.7H1062.1Z" fill="none" stroke="#000" stroke-width="1.25" stroke-linejoin="round"/>
<path d="M1103.98 804.9L1108.83 813.6H1099.13Z" fill="none" stroke="#000" stroke-width="1.25" stroke-linejoin="round"/>
<path d="M1141 792.1L1145.85 800.8H1136.15Z" fill="none" stroke="#000" stroke-width="1.25" stroke-linejoin="round"/>
<path d="M1178.03 763.9L1182.88 772.6H1173.18Z" fill="none" stroke="#000" stroke-width="1.25" stroke-linejoin="round"/>
<path d="M1215.05 734.8L1219.9 743.5H1210.2Z" fill="none" stroke="#000" stroke-width="1.25" stroke-linejoin="round"/>
<path d="M1252.08 741.6L1256.92 750.3H1247.23Z" fill="none" stroke="#000" stroke-width="1.25" stroke-linejoin="round"/>
<path d="M1289.1 755.4L1293.95 764.1H1284.25Z" fill="none" stroke="#000" stroke-width="1.25" stroke-linejoin="round"/>
<path d="M1326.12 805.9L1330.97 814.6H1321.28Z" fill="none" stroke="#000" stroke-width="1.25" stroke-linejoin="round"/>
<polyline points="1029.93,810.5 1066.95,798.4 1103.98,780.9 1141,755.1 1178.03,720.7 1215.05,681.2 1252.08,660.2 1289.1,712.3" fill="none" stroke="#000" stroke-width="2.4" stroke-linejoin="round"/>
<circle cx="1029.93" cy="810.5" r="5.5"/>
<circle cx="1066.95" cy="798.4" r="5.5"/>
<circle cx="1103.98" cy="780.9" r="5.5"/>
<circle cx="1141" cy="755.1" r="5.5"/>
<circle cx="1178.03" cy="720.7" r="5.5"/>
<circle cx="1215.05" cy="681.2" r="5.5"/>
<circle cx="1252.08" cy="660.2" r="5.5"/>
<circle cx="1289.1" cy="712.3" r="5.5"/>
<path d="M986.3 573.6H993.7V819.7M986.3 819.7H1371.3M1371.3 573.6H1362.4V828.3M986.3 758.18H993.7M986.3 696.65H993.7M986.3 635.12H993.7M1362.4 737.67H1371.3M1362.4 655.63H1371.3M993.7 819.7V828.3M1067.44 819.7V828.3M1141.18 819.7V828.3M1214.92 819.7V828.3M1288.66 819.7V828.3" stroke="#000" stroke-width="2.3" fill="none" stroke-linejoin="round" stroke-linecap="butt"/>
</g>
</svg>
</body></html>
